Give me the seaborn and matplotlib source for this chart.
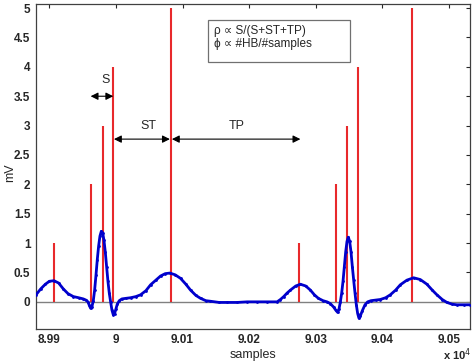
import numpy as np
import pandas as pd
import matplotlib
matplotlib.use("Agg")
import matplotlib.pyplot as plt
import matplotlib.patches as mpatches
import seaborn as sns

# ECG trace (sample index, mV)
ecg_samples = [89880, 89887, 89894, 89900, 89907, 89914, 89921, 89928, 89936, 89944,
               89951, 89955, 89958, 89960, 89962, 89964, 89966, 89968, 89970, 89972,
               89974, 89976, 89978, 89980, 89982, 89984, 89986, 89988, 89990, 89992,
               89994, 89996, 89998, 90000, 90002, 90005, 90009, 90015, 90022, 90030,
               90037, 90045, 90052, 90060, 90067, 90074, 90081, 90089, 90097, 90105,
               90112, 90120, 90127, 90135, 90142, 90155, 90167, 90182, 90197, 90212,
               90227, 90242, 90247, 90252, 90257, 90262, 90270, 90277, 90285, 90292,
               90298, 90304, 90311, 90317, 90322, 90327, 90330, 90333, 90335, 90337,
               90339, 90341, 90343, 90345, 90347, 90349, 90351, 90353, 90355, 90357,
               90359, 90361, 90363, 90365, 90367, 90370, 90374, 90378, 90383, 90390,
               90397, 90405, 90412, 90420, 90427, 90437, 90447, 90457, 90467, 90475,
               90482, 90490, 90497, 90505, 90512, 90522, 90532]
ecg_mv = [0.12, 0.22, 0.30, 0.35, 0.36, 0.32, 0.22, 0.14, 0.09, 0.07,
          0.05, 0.03, 0.0, -0.06, -0.11, -0.08, 0.02, 0.20, 0.45, 0.72,
          0.95, 1.12, 1.20, 1.18, 1.05, 0.85, 0.60, 0.35, 0.15, 0.0,
          -0.14, -0.22, -0.20, -0.12, -0.04, 0.02, 0.05, 0.06, 0.07, 0.09,
          0.12, 0.19, 0.29, 0.37, 0.44, 0.48, 0.49, 0.46, 0.40, 0.30,
          0.20, 0.11, 0.06, 0.02, 0.01, -0.01, -0.01, -0.01, 0.0, 0.0,
          0.0, 0.0, 0.04, 0.09, 0.15, 0.20, 0.27, 0.30, 0.27, 0.20,
          0.12, 0.06, 0.02, 0.0, -0.03, -0.09, -0.14, -0.18, -0.12, 0.0,
          0.15, 0.35, 0.60, 0.85, 1.03, 1.10, 1.03, 0.85, 0.60, 0.37,
          0.15, -0.05, -0.20, -0.28, -0.24, -0.15, -0.05, 0.0, 0.02, 0.03,
          0.04, 0.07, 0.12, 0.20, 0.29, 0.37, 0.41, 0.38, 0.30, 0.20,
          0.12, 0.04, -0.01, -0.04, -0.05, -0.05, -0.05]

# red fiducial markers
mark_samples = [89907, 89963, 89980, 89996, 90082, 90275, 90330, 90347, 90364, 90445]
mark_heights = [1, 2, 3, 4, 5, 1, 2, 3, 4, 5]

x_ticks = [89900, 90000, 90100, 90200, 90300, 90400, 90500]
x_tick_labels = ["8.99", "9", "9.01", "9.02", "9.03", "9.04", "9.05"]
y_ticks = [0, 0.5, 1, 1.5, 2, 2.5, 3, 3.5, 4, 4.5, 5]
y_tick_labels = ["0", "0.5", "1", "1.5", "2", "2.5", "3", "3.5", "4", "4.5", "5"]

sns.set_style("white")
plt.rcParams['font.family'] = ['Liberation Sans', 'DejaVu Sans']

fig = plt.figure(figsize=(4.74, 3.63), dpi=100)
ax = fig.add_axes([0.076, 0.094, 0.916, 0.895])

ax.axhline(0, color='#808080', lw=1.0, zorder=1)
ax.vlines(mark_samples, 0, mark_heights, color='#e8292b', lw=1.5, zorder=2)

df = pd.DataFrame({'sample': ecg_samples, 'mv': ecg_mv})
sns.lineplot(data=df, x='sample', y='mv', ax=ax, color='#0000cc', lw=2.0,
             marker='.', markersize=4, markeredgewidth=0, estimator=None, zorder=3)

ax.set_xlim(89880, 90532)
ax.set_ylim(-0.46, 5.07)
ax.set_xticks(x_ticks)
ax.set_xticklabels(x_tick_labels, fontweight='bold', fontsize=8.5)
ax.set_yticks(y_ticks)
ax.set_yticklabels(y_tick_labels, fontweight='bold', fontsize=8.5)
ax.tick_params(direction='in', length=3, width=0.8, top=True, right=True,
               labeltop=False, labelright=False, pad=4)
for s in ax.spines.values():
    s.set_color('#404040')
    s.set_linewidth(0.9)

ax.set_xlabel('samples', fontsize=9, labelpad=2)
ax.set_ylabel('mV', fontsize=9)
ax.yaxis.set_label_coords(-0.045, 0.48)
fig.text(0.935, 0.022, r'x 10$^4$', fontsize=8, fontweight='bold', va='center')

# interval arrows
arrow = dict(arrowstyle='<|-|>', color='black', lw=0.8, mutation_scale=11,
             shrinkA=0, shrinkB=0)
ax.annotate('', xy=(89962, 3.5), xytext=(89996, 3.5), arrowprops=arrow)
ax.text(89985, 3.78, 'S', fontsize=9, ha='center', va='center')
ax.annotate('', xy=(89997, 2.77), xytext=(90081, 2.77), arrowprops=arrow)
ax.text(90049, 3.0, 'ST', fontsize=9, ha='center', va='center')
ax.annotate('', xy=(90084, 2.77), xytext=(90277, 2.77), arrowprops=arrow)
ax.text(90182, 3.0, 'TP', fontsize=9, ha='center', va='center')

# formula box
ax.add_patch(mpatches.Rectangle((0.396, 0.8215), 0.3275, 0.13, transform=ax.transAxes,
                                fc='white', ec='#707070', lw=0.9, zorder=4))
ax.text(0.41, 0.918, 'ρ ∝ S/(S+ST+TP)', transform=ax.transAxes, fontsize=8.5,
        va='center', ha='left', zorder=5)
ax.text(0.41, 0.878, 'ϕ ∝ #HB/#samples', transform=ax.transAxes, fontsize=8.5,
        va='center', ha='left', zorder=5)

fig.savefig('out.png', dpi=100)
